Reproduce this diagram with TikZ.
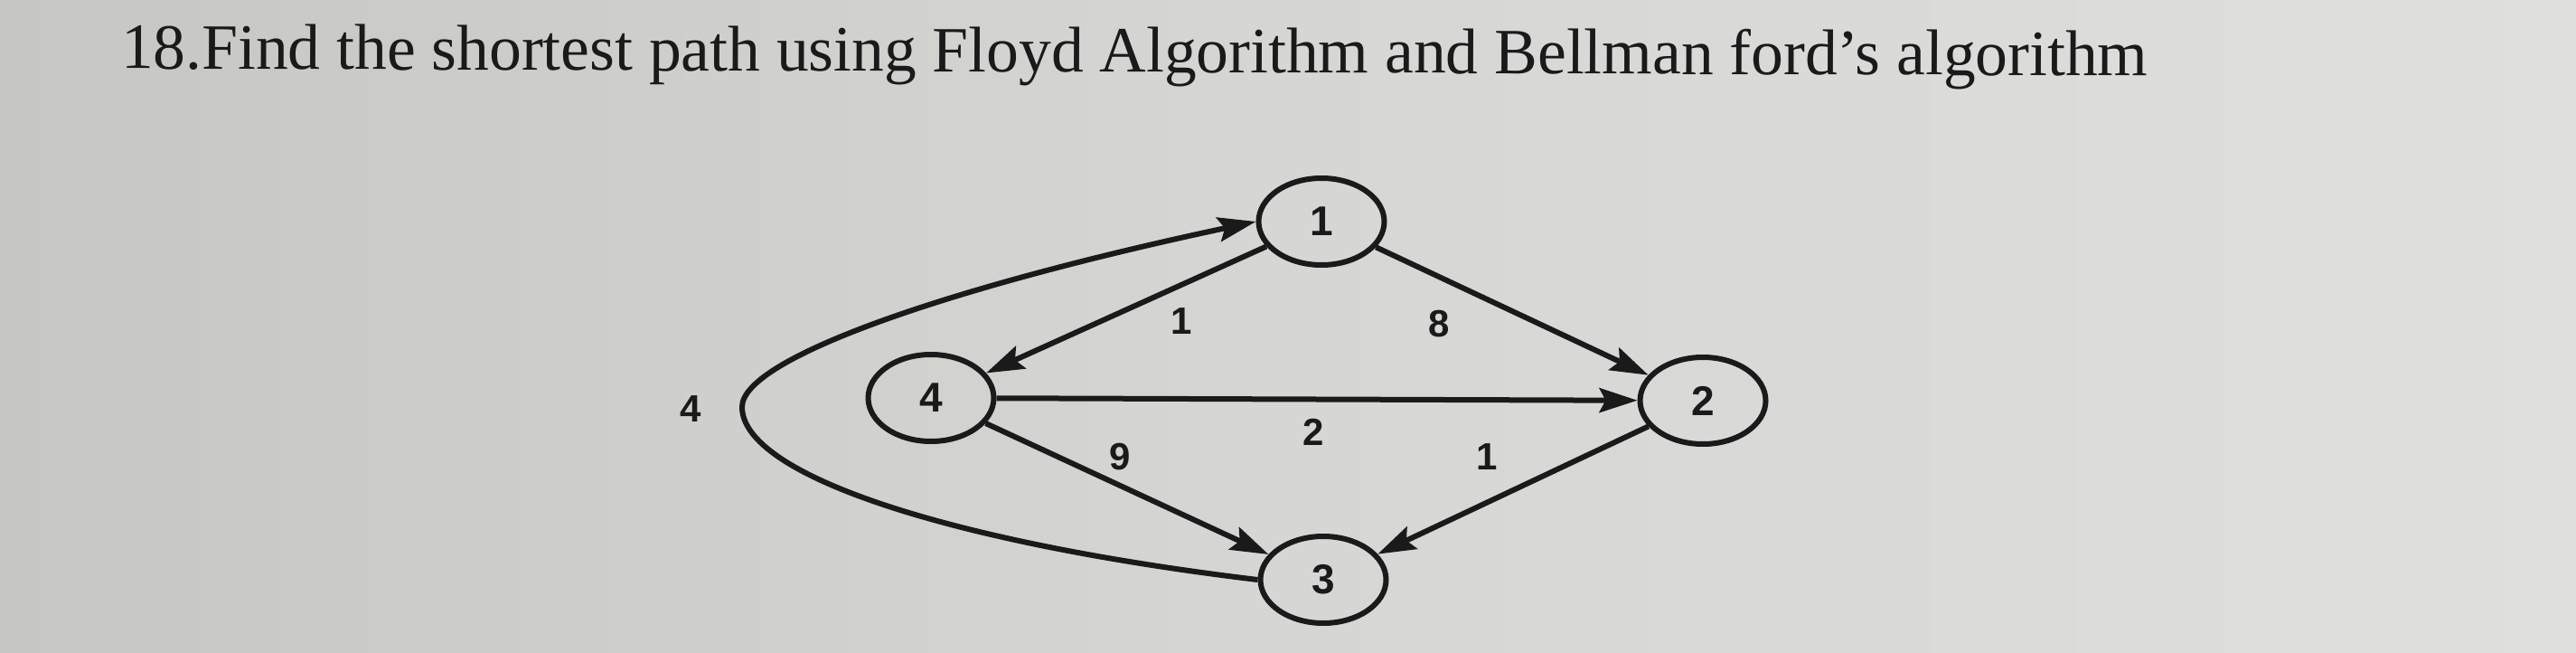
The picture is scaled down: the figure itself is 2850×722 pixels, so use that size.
\documentclass[tikz,border=0pt]{standalone}
\usepackage{fontspec}
\setmainfont{Liberation Serif}
\newfontfamily\lblfont{Liberation Sans}
\usetikzlibrary{shapes.geometric,arrows.meta}
\definecolor{ink}{HTML}{1A1A1A}
\definecolor{bgl}{HTML}{C6C6C3}
\definecolor{bgm}{HTML}{D6D6D4}
\definecolor{bgr}{HTML}{DFDFDD}
\tikzset{
  vert/.style={ellipse, draw=ink, line width=6pt, minimum width=139pt, minimum height=96pt, inner sep=0pt, font=\lblfont\bfseries\fontsize{46}{50}\selectfont, text=ink},
  wlabel/.style={font=\lblfont\bfseries\fontsize{42}{46}\selectfont, text=ink, inner sep=0pt},
  arc/.style={draw=ink, line width=6pt, -{Stealth[length=42pt,width=27pt,inset=7pt]}},
}
\begin{document}
\begin{tikzpicture}[x=1pt,y=-1pt]
\shade[left color=bgl, right color=bgr, middle color=bgm] (0,0) rectangle (2850,722);
\useasboundingbox (0,0) rectangle (2850,722);
\node[anchor=base west, inner sep=0pt, text=ink, rotate=-0.2, font=\fontsize{71.5}{76}\selectfont] (title) at (134,76) {18.Find the shortest path using Floyd Algorithm and Bellman ford’s algorithm};
\node[vert] (n1) at (1462,245) {1};
\node[vert] (n2) at (1884,443) {2};
\node[vert] (n3) at (1464,641) {3};
\node[vert] (n4) at (1030,440) {4};
\coordinate (left) at (821,450);
\draw[arc] (n1) -- (n4);
\draw[arc] (n1) -- (n2);
\draw[arc] (n4) -- (n2);
\draw[arc] (n4) -- (n3);
\draw[arc] (n2) -- (n3);
\draw[arc] (n3.west) .. controls (1050,600) and (821,525) .. (left) .. controls (821,395) and (1060,315) .. (n1.west);
\node[wlabel] (w14) at (1307,355) {1};
\node[wlabel] (w12) at (1592,358) {8};
\node[wlabel] (w42) at (1453,478) {2};
\node[wlabel] (w43) at (1239,505) {9};
\node[wlabel] (w23) at (1645,505) {1};
\node[wlabel] (w31) at (764,452) {4};
\end{tikzpicture}
\end{document}
